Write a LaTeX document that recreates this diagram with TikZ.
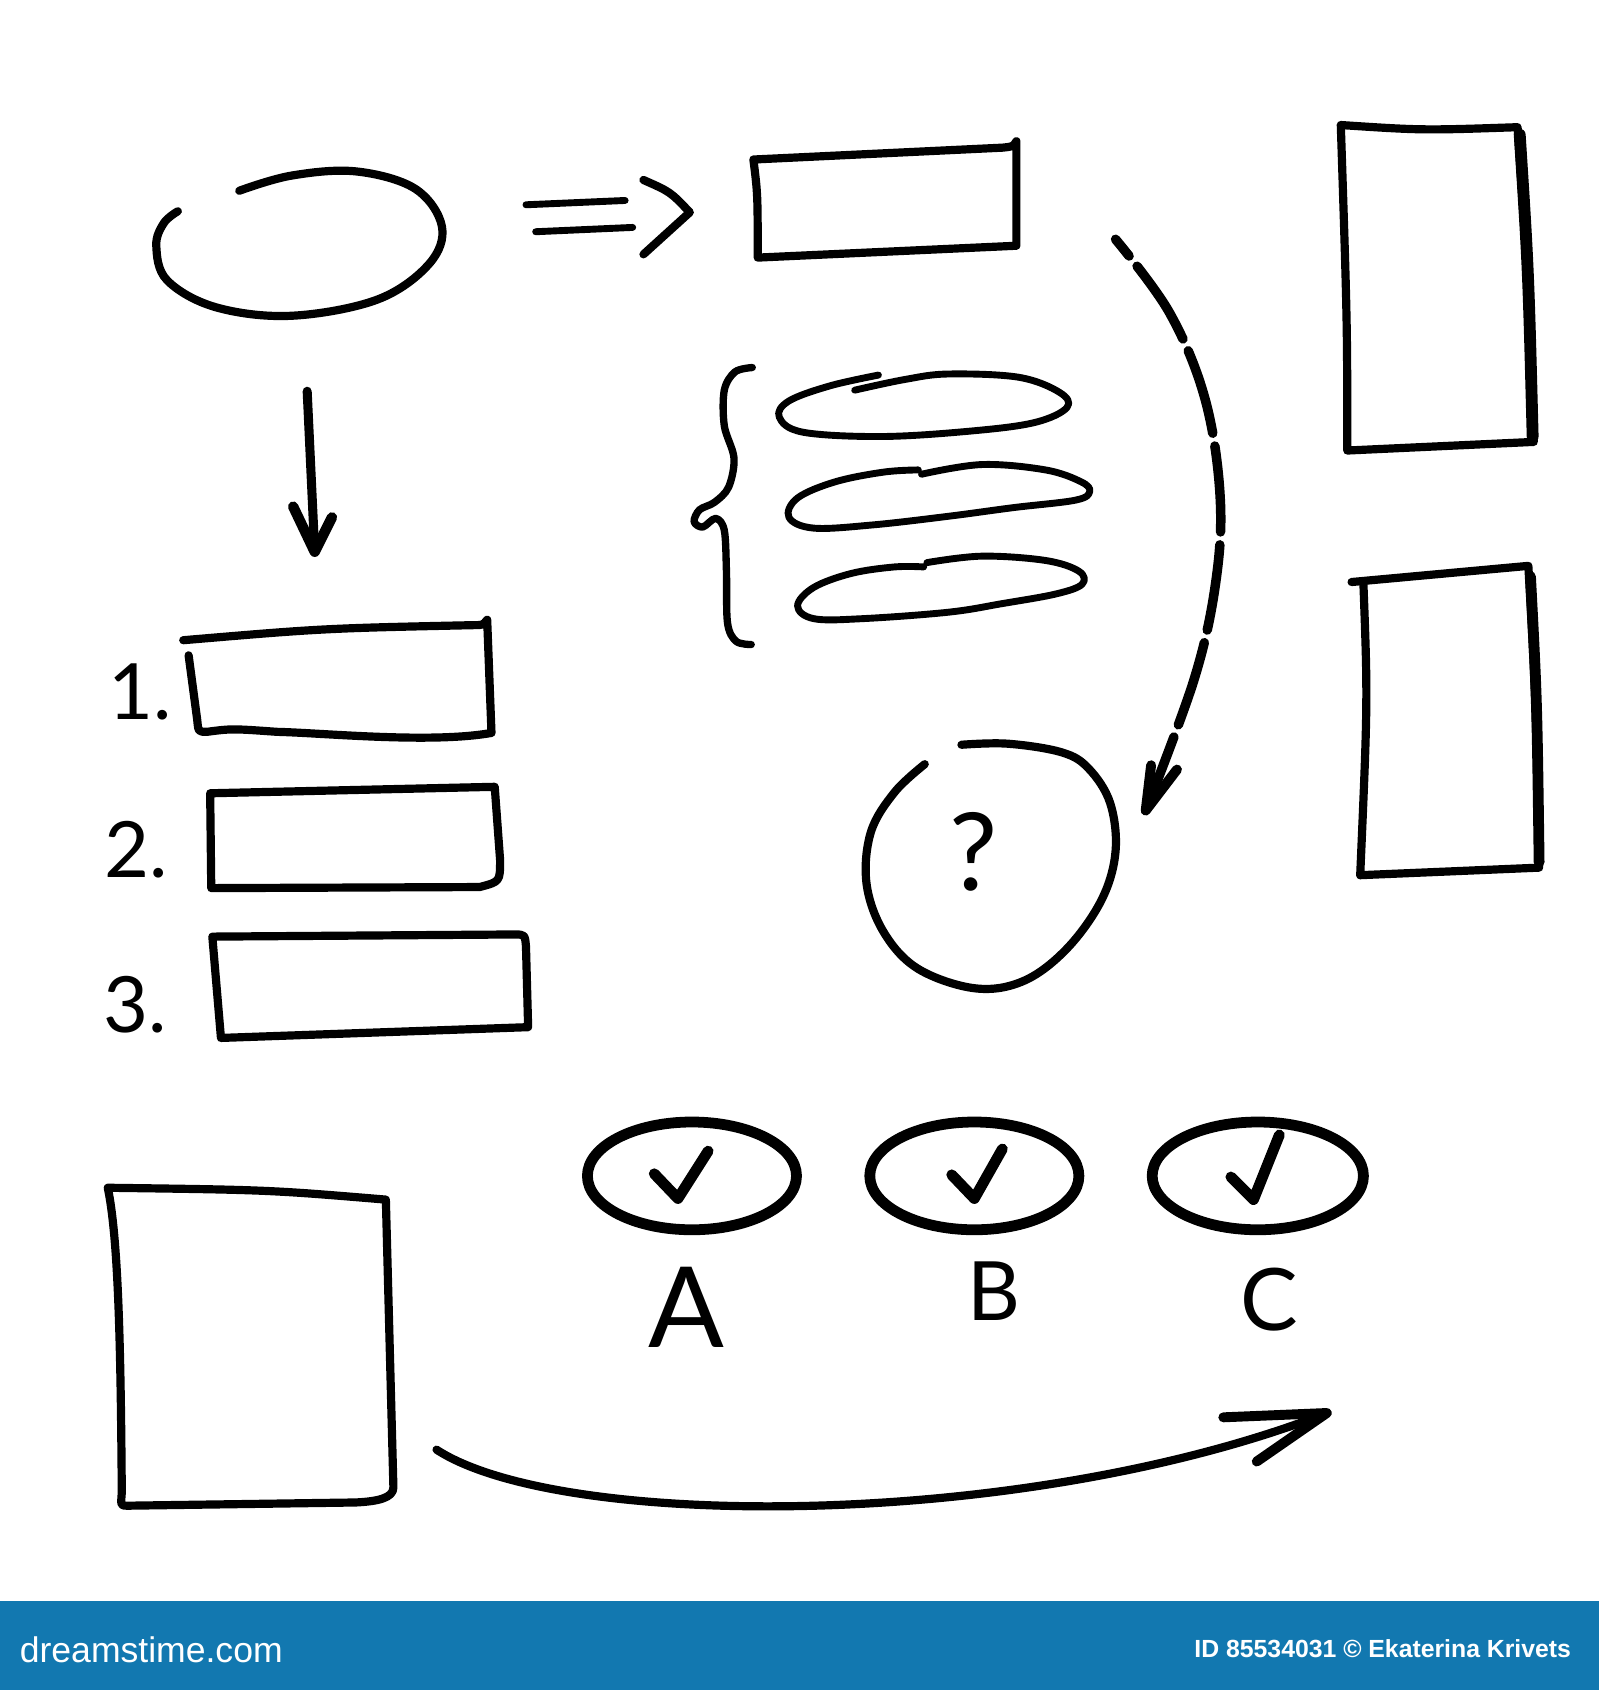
\documentclass[tikz,border=0pt]{standalone}
\usepackage{fontspec}
\setmainfont{Lato}
\newfontfamily\bannerfont{Liberation Sans}
\definecolor{dtblue}{RGB}{18,120,176}
\begin{document}
\begin{tikzpicture}[x=0.5pt,y=-0.5pt,line cap=round,line join=round,
  pen/.style={line width=3.8pt},
  thinpen/.style={line width=3.2pt},
  boldpen/.style={line width=5pt},
  hand/.style={inner sep=0pt,font=\fontsize{#1}{#1}\selectfont},
  dashpen/.style={line width=4.4pt,dash pattern=on 40pt off 6pt,dash phase=30pt}]
\useasboundingbox (0,0) rectangle (1484,1568);
\fill[white] (0,0) rectangle (1484,1568);
% banner
\fill[dtblue] (0,1485) rectangle (1484,1568);
\node[anchor=west,text=white,inner sep=0pt,font=\bannerfont\fontsize{16.5}{16.5}\selectfont] (logo) at (18,1531) {dreamstime.com};
\node[anchor=east,text=white,inner sep=0pt,font=\bannerfont\bfseries\fontsize{11.5}{11.5}\selectfont] (credit) at (1458,1530) {ID 85534031 © Ekaterina Krivets};

% top-left ellipse
\draw[pen] plot[smooth,tension=0.6] coordinates {(222,177) (270,163) (330,159) (385,175) (410,210) (398,245) (350,278) (270,293) (200,285) (155,260) (145,228) (152,207) (165,196)};
% double arrow
\draw[thinpen] (488,190) -- (580,186);
\draw[thinpen] (497,215) -- (587,211);
\draw[pen] (597,167) .. controls (622,178) .. (640,197) -- (597,236);
% top-middle rect
\draw[pen] (699,148) -- (930,137) .. controls (940,136) .. (943,131) -- (943,228) -- (703,239) .. controls (703,180) .. (699,148);
% right tall rect 1
\draw[pen] (1244,116) .. controls (1320,121) .. (1408,118) .. controls (1417,250) .. (1423,410) -- (1250,418) .. controls (1250,300) .. (1244,116);
\draw[line width=5.5pt] (1410,125) .. controls (1418,250) .. (1422,405);
% right rect 2
\draw[pen] (1254,540) -- (1418,525) .. controls (1425,650) .. (1428,805) -- (1262,812);
\draw[pen] (1265,542) .. controls (1269,650) .. (1262,812);
\draw[line width=5pt] (1420,535) .. controls (1426,650) .. (1428,800);
% dashed curved arrow
\coordinate (dstart) at (1035,222);
\coordinate (dtip) at (1063,752);
\draw[dashpen] plot[smooth,tension=0.6] coordinates {(dstart) (1085,290) (1118,370) (1132,460) (1128,540) (1108,630) (dtip)};
\draw[pen,line width=4.6pt] (1068,710) -- (dtip) -- (1092,714);
% brace
\draw[line width=3.4pt] plot[smooth,tension=0.55] coordinates {(698,341) (682,345) (672,362) (672,395) (681,425) (676,452) (663,466) (649,473) (644,484) (652,489) (664,481) (672,492) (674,530) (675,578) (683,595) (697,598)};
% three ovals
\draw[thinpen] plot[smooth,tension=0.6] coordinates {(793,362) (840,352) (880,347) (945,350) (983,364) (990,378) (960,392) (900,400) (818,405) (745,401) (723,387) (732,372) (770,358) (815,348)};
\draw[thinpen] plot[smooth,tension=0.6] coordinates {(855,440) (911,431) (970,436) (1003,447) (1011,456) (998,464) (940,471) (880,479) (810,487) (755,490) (732,480) (740,462) (775,447) (820,438) (852,436)};
\draw[thinpen] plot[smooth,tension=0.6] coordinates {(860,522) (911,516) (970,520) (1001,530) (1004,542) (980,551) (930,560) (880,568) (800,574) (755,574) (740,562) (755,545) (790,532) (830,526) (857,526)};
% circle with question mark
\draw[pen] plot[smooth,tension=0.6] coordinates {(858,709) (830,735) (808,772) (804,820) (820,865) (852,899) (905,917) (950,910) (990,880) (1022,835) (1035,790) (1030,745) (1010,713) (985,698) (935,690) (892,691)};
\node[hand=50] (qm) at (903,790) {?};
% down arrow
\coordinate (dtop) at (285,363);
\coordinate (dbot) at (292,512);
\draw[pen,line width=4.2pt] (dtop) -- (dbot);
\draw[pen,line width=4.8pt] (272,470) -- (dbot) -- (308,480);
% numbered rectangles
\node[hand=36] (n1) at (130,642) {1.};
\node[hand=36] (n2) at (126,788) {2.};
\node[hand=36] (n3) at (125,932) {3.};
\draw[pen] (170,594) .. controls (300,583) .. (440,580) .. controls (448,580) .. (452,575) -- (456,680) .. controls (400,690) and (300,680) .. (257,679) .. controls (215,676) .. (192,679) .. controls (184,679) .. (183,668) -- (175,608);
\draw[pen] (195,736) -- (459,730) -- (464,798) .. controls (464,818) .. (445,823) -- (196,824) -- cycle;
\draw[pen] (197,869) -- (477,867) .. controls (487,867) .. (488,878) -- (490,953) -- (205,963) -- cycle;
% bottom-left square
\draw[pen] (100,1102) .. controls (250,1104) .. (358,1113) -- (365,1380) .. controls (365,1390) and (350,1393) .. (330,1394) -- (118,1397) .. controls (112,1397) .. (113,1385) .. controls (112,1250) and (110,1150) .. (100,1102);
% long arrow
\coordinate (lstart) at (405,1345);
\coordinate (ltip) at (1231,1311);
\draw[pen] (lstart) .. controls (520,1420) and (950,1420) .. (ltip);
\draw[pen,line width=4.6pt] (1135,1315) -- (ltip) -- (1166,1356);
% check ovals
\draw[boldpen] (642,1091) ellipse [x radius=97,y radius=50];
\draw[boldpen] (904,1091) ellipse [x radius=97,y radius=50];
\draw[boldpen] (1167,1091) ellipse [x radius=98,y radius=50];
\draw[boldpen] (607,1089) -- (629,1112) -- (657,1068);
\draw[boldpen] (883,1090) -- (904,1112) -- (930,1066);
\draw[boldpen] (1142,1092) -- (1163,1113) -- (1187,1053);
\node[hand=52] (la) at (637,1213) {A};
\node[hand=38] (lb) at (922,1198) {B};
\node[hand=40] (lc) at (1178,1206) {C};
\end{tikzpicture}
\end{document}
